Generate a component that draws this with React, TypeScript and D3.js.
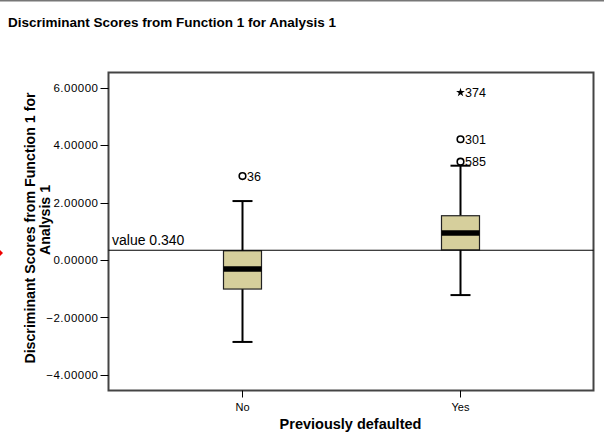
import React from "react";
import * as d3 from "d3";

const categories = ["No", "Yes"];
const whiskerLow = [-2.85, -1.22];
const q1 = [-1.01, 0.35];
const median = [-0.31, 0.94];
const q3 = [0.32, 1.54];
const whiskerHigh = [2.05, 3.28];
const outlierGroup = ["No", "Yes", "Yes", "Yes"];
const outlierValue = [2.92, 3.42, 4.2, 5.83];
const outlierLabel = ["36", "585", "301", "374"];
const outlierExtreme = [false, false, false, true];
const yTicks = [-4, -2, 0, 2, 4, 6];
const refValue = 0.34;

const W = 604;
const H = 446;
const left = 108.5;
const right = 593.5;
const top = 72.5;
const bottom = 390.5;

export default function App() {
  const y = d3.scaleLinear().domain([0, 6]).range([260, 87.5]);
  const x = d3.scalePoint().domain(categories).range([242.5, 460.5]);
  const cx = (c: string) => x(c)!;
  const boxW = 38;
  const capW = 20;
  const font = "Liberation Sans, Arial, sans-serif";
  const star = d3.symbol().type(d3.symbolStar).size(24);

  return (
    <svg width={W} height={H} style={{ position: "absolute", left: 0, top: 0, background: "#fff" }} fontFamily={font}>
      <rect x={0} y={0} width={W} height={H} fill="#fff" />
      <line x1={0} x2={W} y1={0.5} y2={0.5} stroke="#777" strokeWidth={2} />
      <text x={8} y={27} fontSize={13.5} fontWeight="bold" fill="#000">
        Discriminant Scores from Function 1 for Analysis 1
      </text>
      <path d="M0,250 L3,253 L0,256 Z" fill="#e00" />
      {/* frame */}
      <rect x={left} y={top} width={right - left} height={bottom - top} fill="none" stroke="#444" strokeWidth={2} />
      {/* y axis */}
      {yTicks.map((t) => (
        <g key={t}>
          <line x1={left - 8} x2={left} y1={Math.round(y(t)) + 0.5} y2={Math.round(y(t)) + 0.5} stroke="#000" />
          <text x={left - 10} y={y(t) + 4} fontSize={11.5} letterSpacing={0.5} textAnchor="end" fill="#000">
            {d3.format(".5f")(t)}
          </text>
        </g>
      ))}
      <text transform="translate(35,228) rotate(-90)" fontSize={14.2} fontWeight="bold" textAnchor="middle" fill="#000">
        Discriminant Scores from Function 1 for
      </text>
      <text transform="translate(50,220) rotate(-90)" fontSize={14.2} fontWeight="bold" textAnchor="middle" fill="#000">
        Analysis 1
      </text>
      {/* x axis */}
      {categories.map((c) => (
        <g key={c}>
          <line x1={cx(c)} x2={cx(c)} y1={bottom} y2={bottom + 7} stroke="#000" />
          <text x={cx(c)} y={411} fontSize={11} textAnchor="middle" fill="#000">
            {c}
          </text>
        </g>
      ))}
      <text x={350.5} y={429} fontSize={14.5} fontWeight="bold" textAnchor="middle" fill="#000">
        Previously defaulted
      </text>
      {/* boxes */}
      {categories.map((c, i) => {
        const m = cx(c);
        return (
          <g key={c}>
            <line x1={m} x2={m} y1={y(whiskerHigh[i])} y2={y(whiskerLow[i])} stroke="#000" strokeWidth={2} />
            <line x1={m - capW / 2} x2={m + capW / 2} y1={y(whiskerHigh[i])} y2={y(whiskerHigh[i])} stroke="#000" strokeWidth={2} />
            <line x1={m - capW / 2} x2={m + capW / 2} y1={y(whiskerLow[i])} y2={y(whiskerLow[i])} stroke="#000" strokeWidth={2} />
            <rect x={m - boxW / 2} y={y(q3[i])} width={boxW} height={y(q1[i]) - y(q3[i])} fill="#d6cf9c" stroke="#222" strokeWidth={1.2} />
            <line x1={m - boxW / 2} x2={m + boxW / 2} y1={y(median[i])} y2={y(median[i])} stroke="#000" strokeWidth={5.5} />
          </g>
        );
      })}
      {/* reference line */}
      <line x1={left} x2={right} y1={y(refValue)} y2={y(refValue)} stroke="#000" strokeWidth={1.2} />
      <text x={112} y={y(refValue) - 5} fontSize={14} fill="#000">
        value 0.340
      </text>
      {/* outliers */}
      {outlierValue.map((v, i) => {
        const m = cx(outlierGroup[i]);
        const yy = y(v);
        return (
          <g key={i}>
            {outlierExtreme[i] ? (
              <path d={star()!} transform={`translate(${m},${yy})`} fill="#000" />
            ) : (
              <circle cx={m} cy={yy} r={3.3} fill="none" stroke="#000" strokeWidth={1.6} />
            )}
            <text x={m + 4.5} y={yy + 4.5} fontSize={12.5} fill="#000">
              {outlierLabel[i]}
            </text>
          </g>
        );
      })}
    </svg>
  );
}
